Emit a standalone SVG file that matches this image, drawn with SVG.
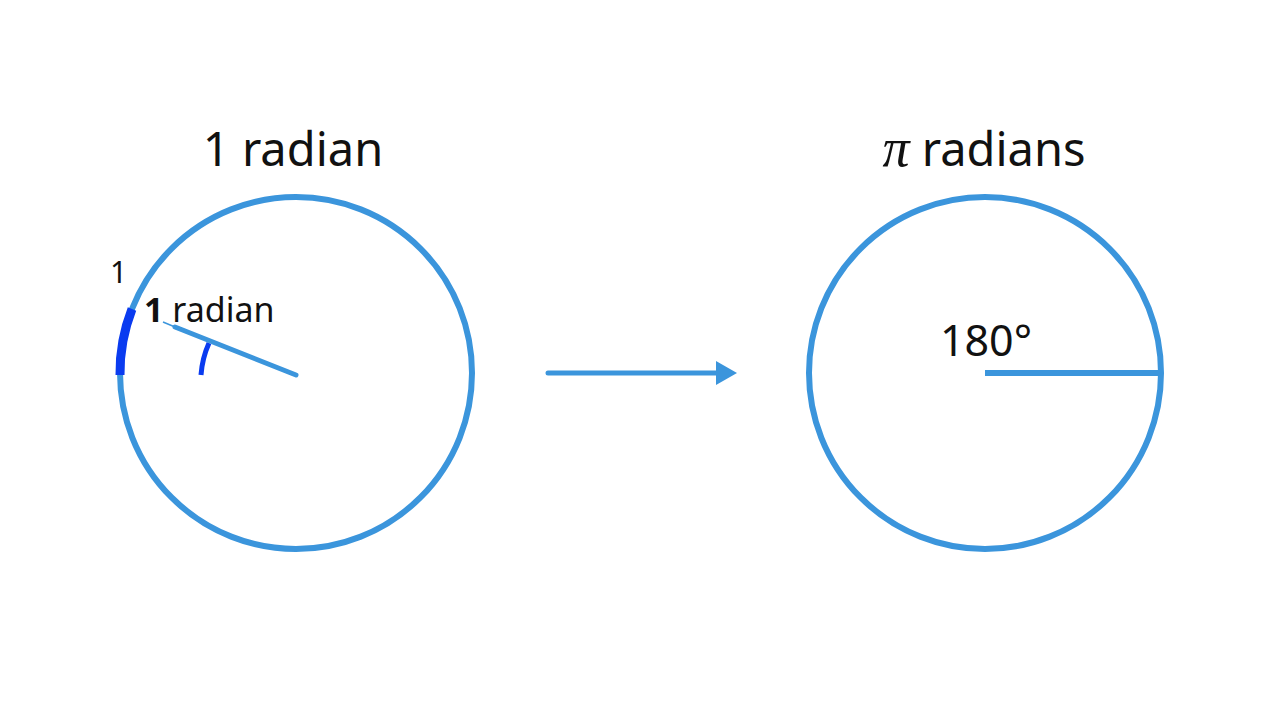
<svg xmlns="http://www.w3.org/2000/svg" width="1280" height="720" viewBox="0 0 1280 720">
<style>
.c{fill:none;stroke:#3b95dc;stroke-width:6}
.t{font-family:"Noto Sans","Open Sans",sans-serif;fill:#111}
.dk{fill:none;stroke:#0a3bf0;stroke-linecap:butt}
</style>
<rect width="1280" height="720" fill="#fff"/>
<g id="left">
<text class="t" x="293" y="166" font-size="47" text-anchor="middle">1 radian</text>
<circle class="c" cx="296" cy="373" r="176"/>
<path class="dk" stroke-width="9" d="M120,375 A176,176 0 0 1 132,309"/>
<path class="dk" stroke-width="5" d="M201,375 A95,95 0 0 1 209,343"/>
<line x1="296" y1="375" x2="175" y2="327" stroke="#3b95dc" stroke-width="5" stroke-linecap="round"/>
<line x1="175" y1="327" x2="163" y2="322" stroke="#3b95dc" stroke-width="1.5"/>
<text class="t" x="110" y="283" font-size="30">1</text>
<text class="t" x="144" y="322" font-size="34"><tspan font-weight="bold">1</tspan> radian</text>
</g>
<g id="right">
<text class="t" x="984" y="166" font-size="47" text-anchor="middle"><tspan font-family="Liberation Serif,serif" font-style="italic" font-size="54">π</tspan> radians</text>
<circle class="c" cx="985" cy="373" r="176"/>
<line x1="985" y1="373" x2="1161" y2="373" stroke="#3b95dc" stroke-width="6"/>
<text class="t" x="986" y="356" font-size="43" text-anchor="middle">180°</text>
</g>
<g id="connectors">
<line x1="548" y1="373" x2="722" y2="373" stroke="#3b95dc" stroke-width="5" stroke-linecap="round"/>
<path d="M716,361 L737,373 L716,385 Z" fill="#3b95dc"/>
</g>
</svg>
